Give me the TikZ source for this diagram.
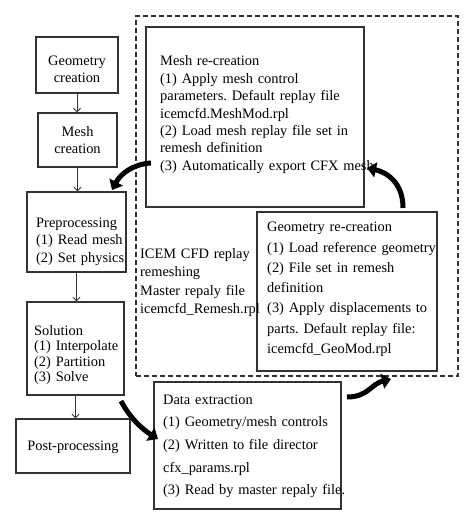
\documentclass[tikz,border=0pt]{standalone}
\usepackage{fontspec}
\setmainfont{Liberation Serif}
\usetikzlibrary{arrows.meta}
\frenchspacing
\begin{document}
\begin{tikzpicture}[x=1pt,y=-1pt,
  box/.style={draw=black!80,line width=1.1pt,rectangle,inner sep=0pt},
  dashbox/.style={draw=black!80,line width=1.1pt,rectangle,inner sep=0pt,dash pattern=on 5pt off 3pt},
  txt/.style={inner sep=0pt,text=black,align=left,text width=#1},
  flow/.style={draw=black!80,line width=1pt,-{Straight Barb[length=3.5pt,width=7pt]}},
  swoosh/.style={draw=black,line width=5pt,-{Triangle[length=9pt,width=15pt]}}
]
\useasboundingbox (0,0) rectangle (474,526);
% dashed frame
\node[dashbox,minimum width=322pt,minimum height=360pt] (frame) at (297,196) {};
% left column boxes
\node[box,minimum width=82pt,minimum height=56pt] (geo) at (77,65) {};
\node[box,minimum width=79pt,minimum height=54pt] (mesh) at (77.5,140) {};
\node[box,minimum width=99pt,minimum height=80pt] (pre) at (76.5,232) {};
\node[box,minimum width=97pt,minimum height=93pt] (sol) at (75.5,348.5) {};
\node[box,minimum width=114pt,minimum height=54pt] (post) at (73,446) {};
% right boxes
\node[box,minimum width=218pt,minimum height=180pt] (meshre) at (255,117) {};
\node[box,minimum width=180pt,minimum height=159pt] (geore) at (347,291.5) {};
\node[box,minimum width=187pt,minimum height=127pt] (dataex) at (247.5,445.5) {};
% texts
\node[txt=80pt,align=center,anchor=base,font=\fontsize{14.4}{17}\selectfont] (geot) at (77,66) {Geometry\\creation};
\node[txt=80pt,align=center,anchor=base,font=\fontsize{14.4}{16.5}\selectfont] (mesht) at (77.5,137) {Mesh\\creation};
\node[txt=95pt,anchor=base west,font=\fontsize{14.4}{17}\selectfont] (pret) at (36,228) {Preprocessing\\(1) Read mesh\\(2) Set physics};
\node[txt=95pt,anchor=base west,font=\fontsize{14.4}{15.5}\selectfont] (solt) at (34,335) {Solution\\(1) Interpolate\\(2) Partition\\(3) Solve};
\node[inner sep=0pt,anchor=base,font=\fontsize{14.4}{17}\selectfont] (postt) at (73,450) {Post-processing};
\node[txt=230pt,anchor=base west,font=\fontsize{14.4}{17.4}\selectfont] (meshret) at (160,66) {Mesh re-creation\\(1) Apply mesh control\\parameters. Default replay file\\icemcfd.MeshMod.rpl\\(2) Load mesh replay file set in\\remesh definition\\(3) Automatically export CFX mesh};
\node[txt=190pt,anchor=base west,font=\fontsize{14.4}{20.2}\selectfont] (georet) at (267,232) {Geometry re-creation\\(1) Load reference geometry\\(2) File set in remesh\\definition\\(3) Apply displacements to\\parts. Default replay file:\\icemcfd\_GeoMod.rpl};
\node[txt=210pt,anchor=base west,font=\fontsize{14.4}{22.7}\selectfont] (dataext) at (163,404) {Data extraction\\(1) Geometry/mesh controls\\(2) Written to file director\\cfx\_params.rpl\\(3) Read by master repaly file.};
\node[txt=130pt,anchor=base west,font=\fontsize{14.4}{18.5}\selectfont] (icem) at (140,258) {ICEM CFD replay\\remeshing\\Master repaly file\\icemcfd\_Remesh.rpl};
% flow arrows
\draw[flow] (geo.south) -- (geo.south |- mesh.north);
\draw[flow] (mesh.south) -- (mesh.south |- pre.north);
\draw[flow] (pre.south) -- (pre.south |- sol.north);
\draw[flow] (sol.south) -- (sol.south |- post.north);
% swoosh arrows
\coordinate (s1) at (151,163);
\coordinate (e1) at (112,190);
\draw[swoosh] (s1) .. controls (134,164) and (121,173) .. (e1);
\coordinate (s2) at (403,208);
\coordinate (e2) at (367,168);
\draw[swoosh] (s2) .. controls (403,182) and (386,172) .. (e2);
\coordinate (s3) at (347,397);
\coordinate (e3) at (391,379);
\draw[swoosh] (s3) .. controls (368,397) and (371,384) .. (e3);
\coordinate (s4) at (121,401);
\coordinate (e4) at (158,439);
\draw[swoosh] (s4) .. controls (130,418) and (142,429) .. (e4);
\end{tikzpicture}
\end{document}
